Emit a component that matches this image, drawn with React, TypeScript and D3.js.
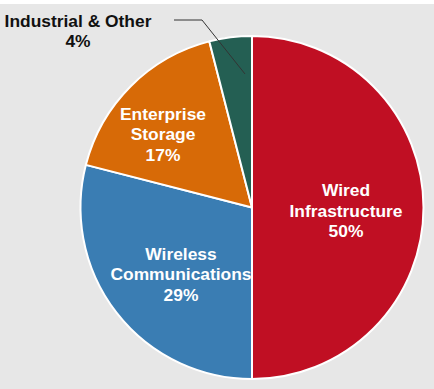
import React from "react";
import { pie, arc, PieArcDatum } from "d3";

const categories = ["Wired Infrastructure", "Wireless Communications", "Enterprise Storage", "Industrial & Other"];
const shares = [50, 29, 17, 4];
const colors = ["#c00f23", "#3a7db3", "#d76a07", "#245f53"];
const labelLines = [
  ["Wired", "Infrastructure", "50%"],
  ["Wireless", "Communications", "29%"],
  ["Enterprise", "Storage", "17%"],
  ["Industrial & Other", "4%"],
];

const W = 434;
const H = 389;
const cx = 252;
const cy = 207.5;
const R = 171.5;

type Row = { name: string; value: number; color: string; lines: string[] };

const App = () => {
  const rows: Row[] = categories.map((name, i) => ({
    name,
    value: shares[i],
    color: colors[i],
    lines: labelLines[i],
  }));

  const slices = pie<Row>().value((d) => d.value).sort(null)(rows);
  const sliceArc = arc<PieArcDatum<Row>>().innerRadius(0).outerRadius(R);

  // middle-line centre of each inside label, relative to pie centre
  const labelPos = [
    { x: 94, y: 3 },
    { x: -71, y: 66.5 },
    { x: -89, y: -73.5 },
  ];

  // callout for the small slice, pointing into its right part
  const small = slices[3];
  const a = small.startAngle + 0.79 * (small.endAngle - small.startAngle);
  const tip = [cx + Math.sin(a) * R * 0.78, cy - Math.cos(a) * R * 0.78];

  return (
    <svg width={W} height={H} style={{ position: "absolute", left: 0, top: 0 }}>
      <rect x={0} y={4} width={W} height={H - 4} fill="#e7e7e7" />
      <g transform={`translate(${cx},${cy})`}>
        {slices.map((s) => (
          <path key={s.data.name} d={sliceArc(s) || ""} fill={s.data.color} stroke="#fff" strokeWidth={2} strokeLinejoin="round" />
        ))}
        {slices.slice(0, 3).map((s, i) => (
          <text
            key={"l" + i}
            textAnchor="middle"
            fill="#fff"
            fontFamily="'Liberation Sans', Arial, sans-serif"
            fontWeight="bold"
            fontSize={17.4}
          >
            {s.data.lines.map((t, j) => (
              <tspan key={j} x={labelPos[i].x} y={labelPos[i].y + (j - 1) * 20.5 + 6}>
                {t}
              </tspan>
            ))}
          </text>
        ))}
      </g>
      <polyline
        points={`174,20 202,20 ${tip[0]},${tip[1]}`}
        fill="none"
        stroke="#333"
        strokeWidth={1}
      />
      <text textAnchor="middle" fill="#111" fontFamily="'Liberation Sans', Arial, sans-serif" fontWeight="bold" fontSize={17.4}>
        {small.data.lines.map((t, j) => (
          <tspan key={j} x={78} y={27 + j * 20}>
            {t}
          </tspan>
        ))}
      </text>
    </svg>
  );
};

export default App;
